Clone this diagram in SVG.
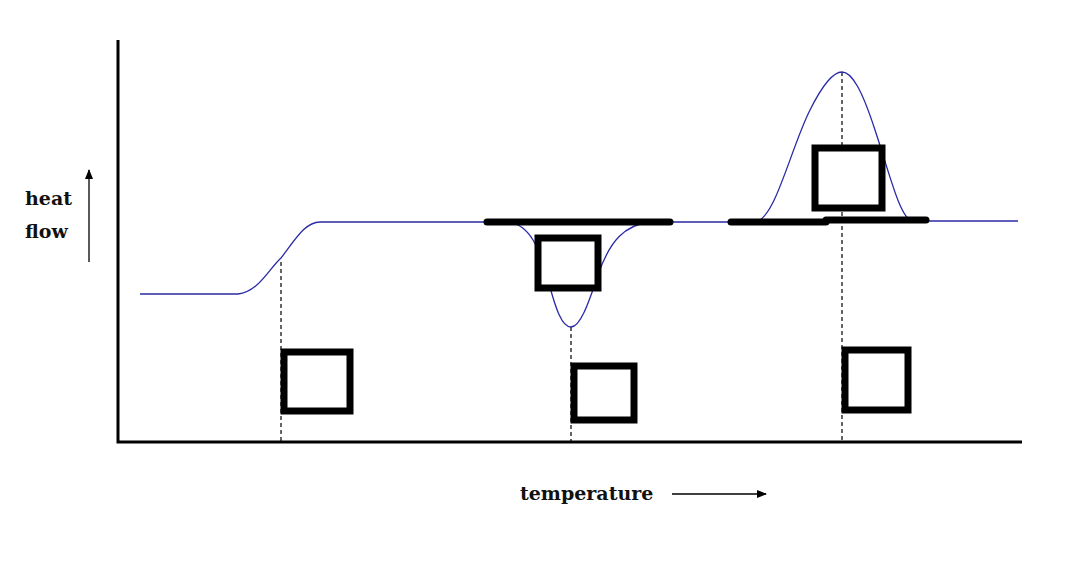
<svg xmlns="http://www.w3.org/2000/svg" width="1078" height="566" viewBox="0 0 1078 566">
<style>
.ax{stroke:#000;stroke-width:3;fill:none}
.cv{stroke:#2a2aa8;stroke-width:1.3;fill:none}
.dash{stroke:#000;stroke-width:1.2;stroke-dasharray:4,3;fill:none}
.thick{stroke:#000;stroke-width:7;stroke-linecap:round}
.box{fill:#fff;stroke:#000;stroke-width:7}
.lbl{font-family:"DejaVu Serif","Liberation Serif",serif;font-weight:bold;font-size:19px;fill:#111}
.arr{stroke:#000;stroke-width:1.3;fill:none}
</style>
<defs><marker id="ah" markerWidth="10" markerHeight="8" refX="9" refY="4" orient="auto" markerUnits="userSpaceOnUse"><path d="M0,0 L10,4 L0,8 Z" fill="#000"/></marker></defs>
<rect width="1078" height="566" fill="#fff"/>
<g id="axes">
<polyline class="ax" points="118,40 118,442 1022,442"/>
</g>
<g id="connectors">
<line class="dash" x1="281" y1="262" x2="281" y2="442"/>
<line class="dash" x1="571" y1="327" x2="571" y2="442"/>
<line class="dash" x1="842" y1="72" x2="842" y2="442"/>
<line class="arr" x1="89" y1="262" x2="89" y2="170" marker-end="url(#ah)"/>
<line class="arr" x1="672" y1="494" x2="766" y2="494" marker-end="url(#ah)"/>
</g>
<g id="curve">
<path class="cv" d="M140,294 H238 C258,292 268,270 281,258 C295,240 305,222 320,222 H505 C530,222 540,250 548,280 C556,310 562,327 571,327 C580,327 588,305 598,275 C610,240 625,225 650,222 H755 C775,220 790,150 810,110 C825,80 835,72 842,72 C852,72 862,90 875,130 C890,175 900,218 912,221 H1018"/>
</g>
<g id="bars">
<line class="thick" x1="487" y1="222" x2="670" y2="222"/>
<line class="thick" x1="731" y1="222" x2="826" y2="222"/>
<line class="thick" x1="826" y1="220" x2="926" y2="220"/>
</g>
<g id="box1"><rect class="box" x="284" y="352" width="66" height="59"/></g>
<g id="box2"><rect class="box" x="538" y="238" width="60" height="50"/></g>
<g id="box3"><rect class="box" x="574" y="366" width="60" height="54"/></g>
<g id="box4"><rect class="box" x="815" y="148" width="67" height="60"/></g>
<g id="box5"><rect class="box" x="845" y="350" width="63" height="60"/></g>
<g id="labels">
<text class="lbl" x="25" y="205">heat</text>
<text class="lbl" x="25" y="238">flow</text>
<text class="lbl" x="520" y="500">temperature</text>
</g>
</svg>
